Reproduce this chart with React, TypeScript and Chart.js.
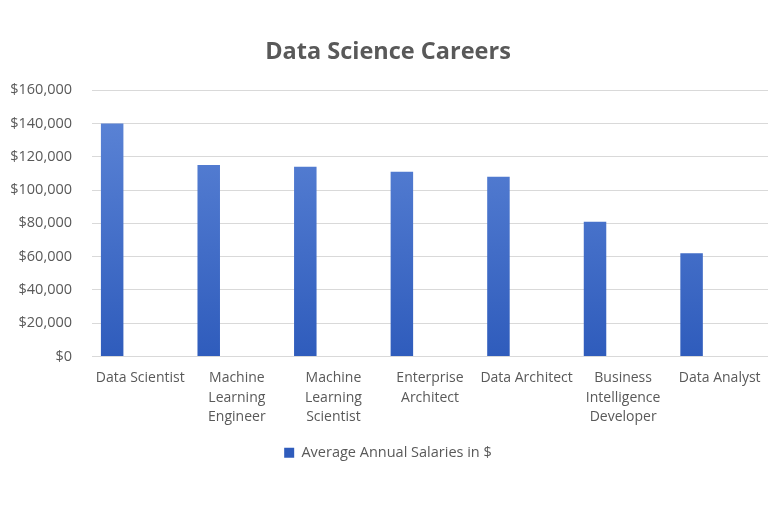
import React, { useEffect, useRef } from "react";
import Chart from "chart.js/auto";

const categories: string[][] = [
  ["Data Scientist"],
  ["Machine", "Learning", "Engineer"],
  ["Machine", "Learning", "Scientist"],
  ["Enterprise", "Architect"],
  ["Data Architect"],
  ["Business", "Intelligence", "Developer"],
  ["Data Analyst"],
];
const salaries = [140000, 115000, 114000, 111000, 108000, 81000, 62000];
// Empty second series (keeps bars on the left of each slot, as in the original)
const emptySeries = [null, null, null, null, null, null, null];
const yTicks = [0, 20000, 40000, 60000, 80000, 100000, 120000, 140000, 160000];

const TEXT = "#595959";
const FONT = "'Open Sans', 'Noto Sans', sans-serif";

const App = () => {
  const canvasRef = useRef<HTMLCanvasElement | null>(null);

  useEffect(() => {
    const ctx = canvasRef.current?.getContext("2d");
    if (!ctx) return;

    const chart = new Chart(ctx, {
      type: "bar",
      data: {
        labels: categories,
        datasets: [
          {
            label: "Average Annual Salaries in $",
            data: salaries,
            backgroundColor: (c: any) => {
              const area = c.chart.chartArea;
              if (!area) return "#4472c4";
              const g = c.chart.ctx.createLinearGradient(0, area.top, 0, area.bottom);
              g.addColorStop(0, "#5f87d8");
              g.addColorStop(1, "#2f5cbc");
              return g;
            },
            categoryPercentage: 1.165,
            barPercentage: 0.4,
          },
          {
            label: "",
            data: emptySeries,
            backgroundColor: "rgba(0,0,0,0)",
            categoryPercentage: 1.165,
            barPercentage: 0.4,
          },
        ],
      },
      options: {
        animation: false,
        responsive: false,
        layout: { padding: { left: 8, right: 0, top: 38, bottom: 42 } },
        plugins: {
          title: {
            display: true,
            text: "Data Science Careers",
            color: TEXT,
            font: { family: FONT, size: 23.5, weight: "bold" },
            padding: { top: 0, bottom: 24 },
          },
          legend: {
            position: "bottom",
            labels: {
              filter: (item: any) => item.text !== "",
              color: TEXT,
              font: { family: FONT, size: 14.5 },
              boxWidth: 10,
              boxHeight: 10,
              padding: 6,
            },
          },
          tooltip: { enabled: false },
        },
        scales: {
          x: {
            grid: { display: false },
            border: { display: false },
            ticks: {
              color: TEXT,
              font: { family: FONT, size: 14, lineHeight: 1.4 },
              maxRotation: 0,
              autoSkip: false,
              padding: 4,
            },
            afterFit: (s: any) => {
              s.height = 83;
            },
          },
          y: {
            min: 0,
            max: 160000,
            afterBuildTicks: (s: any) => {
              s.ticks = yTicks.map((v) => ({ value: v }));
            },
            grid: { color: "#d9d9d9", drawTicks: false },
            border: { display: false },
            ticks: {
              color: TEXT,
              font: { family: FONT, size: 14.5 },
              padding: 20,
              callback: (v: any) => "$" + Number(v).toLocaleString("en-US"),
            },
            afterFit: (s: any) => {
              s.width = 84;
            },
          },
        },
      },
    } as any);

    return () => {
      chart.destroy();
    };
  }, []);

  return (
    <div style={{ position: "fixed", left: 0, top: 0, width: 768, height: 512, background: "#fff" }}>
      <canvas ref={canvasRef} width={768} height={512} />
    </div>
  );
};

export default App;
